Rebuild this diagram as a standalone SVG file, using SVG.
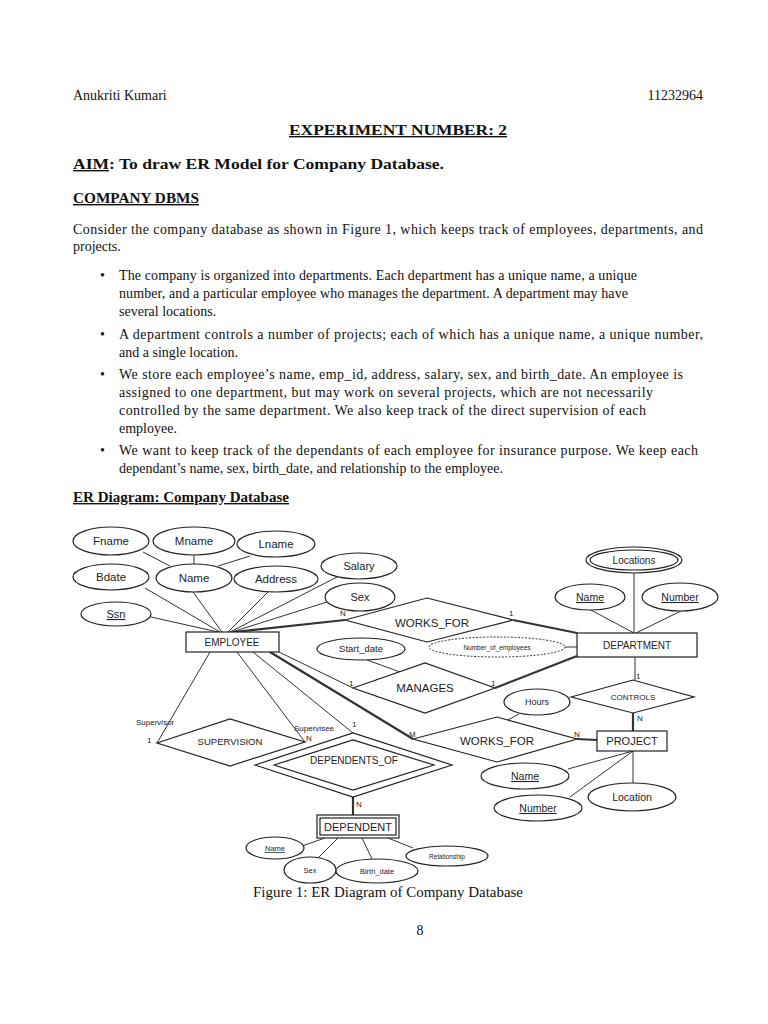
<svg xmlns="http://www.w3.org/2000/svg" width="768" height="1024" viewBox="0 0 768 1024">
<style>
.doc{font-family:"Liberation Serif","Times New Roman",serif;font-size:14px;fill:#111}
.b{font-weight:bold}
.u{text-decoration:underline}
.t{font-family:"Liberation Sans",Arial,sans-serif;fill:#222;text-anchor:middle}
.sh{fill:#fff;stroke:#222;stroke-width:1.2}
.ln{stroke:#333;stroke-width:1;fill:none}
.dl{stroke:#333;stroke-width:2.2;fill:none}
.lab{font-family:"Liberation Sans",Arial,sans-serif;font-size:8px;fill:#222}
</style>
<rect width="768" height="1024" fill="#fff"/>
<g id="page-text">
<text class="doc" x="73" y="100" font-size="14">Anukriti Kumari</text>
<text class="doc" x="703" y="100" text-anchor="end" font-size="14">11232964</text>
<text class="doc b u" x="289" y="135" font-size="17" textLength="218" lengthAdjust="spacingAndGlyphs">EXPERIMENT NUMBER: 2</text>
<text class="doc b" x="73" y="169" font-size="18" textLength="371" lengthAdjust="spacingAndGlyphs"><tspan class="u">AIM</tspan>: To draw ER Model for Company Database.</text>
<text class="doc b u" x="73" y="203" font-size="14" textLength="126" lengthAdjust="spacingAndGlyphs">COMPANY DBMS</text>
<text class="doc" x="73" y="234" textLength="630" lengthAdjust="spacing">Consider the company database as shown in Figure 1, which keeps track of employees, departments, and</text>
<text class="doc" x="73" y="251">projects.</text>
<text class="doc" x="100" y="280">•</text>
<text class="doc" x="119" y="280" textLength="518" lengthAdjust="spacing">The company is organized into departments. Each department has a unique name, a unique</text>
<text class="doc" x="119" y="298" textLength="509" lengthAdjust="spacing">number, and a particular employee who manages the department. A department may have</text>
<text class="doc" x="119" y="316">several locations.</text>
<text class="doc" x="100" y="339">•</text>
<text class="doc" x="119" y="339" textLength="584" lengthAdjust="spacing">A department controls a number of projects; each of which has a unique name, a unique number,</text>
<text class="doc" x="119" y="357">and a single location.</text>
<text class="doc" x="100" y="379">•</text>
<text class="doc" x="119" y="379" textLength="564" lengthAdjust="spacing">We store each employee’s name, emp_id, address, salary, sex, and birth_date. An employee is</text>
<text class="doc" x="119" y="397" textLength="534" lengthAdjust="spacing">assigned to one department, but may work on several projects, which are not necessarily</text>
<text class="doc" x="119" y="415" textLength="527" lengthAdjust="spacing">controlled by the same department. We also keep track of the direct supervision of each</text>
<text class="doc" x="119" y="433">employee.</text>
<text class="doc" x="100" y="455">•</text>
<text class="doc" x="119" y="455" textLength="579" lengthAdjust="spacing">We want to keep track of the dependants of each employee for insurance purpose. We keep each</text>
<text class="doc" x="119" y="473" textLength="384" lengthAdjust="spacing">dependant’s name, sex, birth_date, and relationship to the employee.</text>
<text class="doc b u" x="73" y="502" font-size="14" textLength="216" lengthAdjust="spacingAndGlyphs">ER Diagram: Company Database</text>
<text class="doc" x="388" y="897" text-anchor="middle" font-size="15" textLength="270" lengthAdjust="spacingAndGlyphs">Figure 1: ER Diagram of Company Database</text>
<text class="doc" x="420" y="935" text-anchor="middle" font-size="14">8</text>
</g>
<g id="connectors">
<line class="ln" x1="143" y1="552" x2="170" y2="566"/>
<line class="ln" x1="194" y1="555" x2="194" y2="564"/>
<line class="ln" x1="250" y1="556" x2="218" y2="566"/>
<line class="ln" x1="145" y1="588" x2="220" y2="632"/>
<line class="ln" x1="193" y1="592" x2="222" y2="632"/>
<line class="ln" x1="268" y1="592" x2="228" y2="632"/>
<line class="ln" x1="337" y1="577" x2="230" y2="632"/>
<line class="ln" x1="327" y1="602" x2="232" y2="632"/>
<line class="ln" x1="151" y1="617" x2="218" y2="632"/>
<line class="dl" x1="234" y1="632" x2="345" y2="620"/>
<line class="dl" x1="513" y1="620" x2="577" y2="633"/>
<line class="ln" x1="565" y1="647" x2="577" y2="647"/>
<line class="ln" x1="634" y1="573" x2="634" y2="633"/>
<line class="ln" x1="589" y1="609" x2="634" y2="633"/>
<line class="ln" x1="683" y1="610" x2="636" y2="633"/>
<line class="ln" x1="367" y1="660" x2="400" y2="672"/>
<line class="ln" x1="279" y1="652" x2="353" y2="688"/>
<line class="dl" x1="495" y1="688" x2="577" y2="656"/>
<line class="ln" x1="635" y1="657" x2="635" y2="680"/>
<line class="dl" x1="633" y1="713" x2="633" y2="731"/>
<line class="ln" x1="519" y1="714" x2="506" y2="721"/>
<line class="dl" x1="270" y1="652" x2="413" y2="739"/>
<line class="dl" x1="577" y1="739" x2="597" y2="740"/>
<line class="ln" x1="253" y1="652" x2="353" y2="733"/>
<line class="ln" x1="210" y1="652" x2="157" y2="743"/>
<line class="ln" x1="237" y1="652" x2="305" y2="742"/>
<line class="dl" x1="353" y1="797" x2="353" y2="815"/>
<line class="ln" x1="302" y1="846" x2="325" y2="838"/>
<line class="ln" x1="318" y1="858" x2="338" y2="838"/>
<line class="ln" x1="372" y1="859" x2="362" y2="838"/>
<line class="ln" x1="413" y1="848" x2="388" y2="838"/>
<line class="ln" x1="568" y1="769" x2="633" y2="751"/>
<line class="ln" x1="570" y1="797" x2="633" y2="751"/>
<line class="ln" x1="633" y1="751" x2="633" y2="783"/>
</g>
<g id="Fname"><ellipse class="sh" cx="111" cy="541" rx="38" ry="14"/><text class="t" x="111" y="545" font-size="11.5">Fname</text></g>
<g id="Mname"><ellipse class="sh" cx="194" cy="541" rx="41" ry="14"/><text class="t" x="194" y="545" font-size="11.5">Mname</text></g>
<g id="Lname"><ellipse class="sh" cx="276" cy="544" rx="39" ry="13"/><text class="t" x="276" y="548" font-size="11.5">Lname</text></g>
<g id="Bdate"><ellipse class="sh" cx="111" cy="577" rx="38" ry="13"/><text class="t" x="111" y="581" font-size="11.5">Bdate</text></g>
<g id="Name"><ellipse class="sh" cx="194" cy="578" rx="38" ry="14"/><text class="t" x="194" y="582" font-size="11.5">Name</text></g>
<g id="Address"><ellipse class="sh" cx="276" cy="579" rx="42" ry="13"/><text class="t" x="276" y="583" font-size="11.5">Address</text></g>
<g id="Salary"><ellipse class="sh" cx="359" cy="566" rx="38" ry="13"/><text class="t" x="359" y="570" font-size="11">Salary</text></g>
<g id="Sex"><ellipse class="sh" cx="360" cy="597" rx="35" ry="14"/><text class="t" x="360" y="601" font-size="11">Sex</text></g>
<g id="Ssn"><ellipse class="sh" cx="116" cy="614" rx="35" ry="12"/><text class="t u" x="116" y="618" font-size="11">Ssn</text></g>
<g id="EMPLOYEE"><rect class="sh" x="186" y="632" width="93" height="20"/><text class="t" x="232" y="646" font-size="10">EMPLOYEE</text></g>
<g id="WORKS_FOR_1"><polygon class="sh" style="fill:none" points="345,620 427,598 513,620 427,642"/><text class="t" x="432" y="627" font-size="11.5">WORKS_FOR</text></g>
<g id="Number_of_employees"><ellipse cx="497" cy="647" rx="68" ry="10" fill="#fff" stroke="#333" stroke-width="1" stroke-dasharray="2,1.5"/><text class="t" x="497" y="650" font-size="6.5">Number_of_employees</text></g>
<g id="DEPARTMENT"><rect class="sh" x="577" y="633" width="120" height="24"/><text class="t" x="637" y="649" font-size="10">DEPARTMENT</text></g>
<g id="Locations"><ellipse class="sh" cx="634" cy="560" rx="48" ry="13"/><ellipse class="sh" cx="634" cy="560" rx="44" ry="10"/><text class="t" x="634" y="564" font-size="10">Locations</text></g>
<g id="Dept_Name"><ellipse class="sh" cx="590" cy="597" rx="35" ry="13"/><text class="t u" x="590" y="601" font-size="10.5">Name</text></g>
<g id="Dept_Number"><ellipse class="sh" cx="680" cy="597" rx="38" ry="14"/><text class="t u" x="680" y="601" font-size="10.5">Number</text></g>
<g id="Start_date"><ellipse class="sh" cx="361" cy="649" rx="44" ry="11"/><text class="t" x="361" y="652" font-size="9.5">Start_date</text></g>
<g id="MANAGES"><polygon class="sh" points="353,688 425,663 495,688 425,713"/><text class="t" x="425" y="692" font-size="11.5">MANAGES</text></g>
<g id="CONTROLS"><polygon class="sh" points="571,697 633,680 694,697 633,713"/><text class="t" x="633" y="700" font-size="8">CONTROLS</text></g>
<g id="Hours"><ellipse class="sh" cx="537" cy="702" rx="33" ry="13"/><text class="t" x="537" y="705" font-size="9">Hours</text></g>
<g id="WORKS_FOR_2"><polygon class="sh" points="413,739 497,717 577,739 497,762"/><text class="t" x="497" y="745" font-size="11.5">WORKS_FOR</text></g>
<g id="PROJECT"><rect class="sh" x="597" y="731" width="70" height="20"/><text class="t" x="632" y="745" font-size="11">PROJECT</text></g>
<g id="Proj_Name"><ellipse class="sh" cx="525" cy="776" rx="44" ry="13"/><text class="t u" x="525" y="780" font-size="10.5">Name</text></g>
<g id="Proj_Number"><ellipse class="sh" cx="538" cy="808" rx="44" ry="13"/><text class="t u" x="538" y="812" font-size="10.5">Number</text></g>
<g id="Location"><ellipse class="sh" cx="632" cy="797" rx="44" ry="14"/><text class="t" x="632" y="801" font-size="10.5">Location</text></g>
<g id="SUPERVISION"><polygon class="sh" points="157,743 230,719 305,742 230,766"/><text class="t" x="230" y="745" font-size="9.5">SUPERVISION</text></g>
<g id="DEPENDENTS_OF"><polygon class="sh" points="255,765 353,733 452,765 353,797"/><polygon class="sh" points="274,765 353,740 434,765 353,790"/><text class="t" x="354" y="764" font-size="10">DEPENDENTS_OF</text></g>
<g id="DEPENDENT"><rect class="sh" x="317" y="815" width="82" height="23"/><rect class="sh" x="320" y="818" width="76" height="17"/><text class="t" x="358" y="831" font-size="11">DEPENDENT</text></g>
<g id="Dep_Name"><ellipse class="sh" cx="275" cy="848" rx="29" ry="11"/><text class="t u" x="275" y="851" font-size="7.5">Name</text></g>
<g id="Dep_Sex"><ellipse class="sh" cx="310" cy="870" rx="26" ry="13"/><text class="t" x="310" y="873" font-size="7.5">Sex</text></g>
<g id="Birth_date"><ellipse class="sh" cx="377" cy="871" rx="41" ry="12"/><text class="t" x="377" y="874" font-size="7.5">Birth_date</text></g>
<g id="Relationship"><ellipse class="sh" cx="447" cy="856" rx="41" ry="10"/><text class="t" x="447" y="859" font-size="6.5">Relationship</text></g>
<g id="labels">
<text class="lab" x="340" y="616">N</text>
<text class="lab" x="509" y="616">1</text>
<text class="lab" x="349" y="686">1</text>
<text class="lab" x="491" y="686">1</text>
<text class="lab" x="636" y="679">1</text>
<text class="lab" x="637" y="721">N</text>
<text class="lab" x="409" y="737">M</text>
<text class="lab" x="574" y="737">N</text>
<text class="lab" x="147" y="743">1</text>
<text class="lab" x="306" y="741">N</text>
<text class="lab" x="352" y="727">1</text>
<text class="lab" x="356" y="807">N</text>
<text class="lab" x="136" y="725" font-size="5.5">Supervisor</text>
<text class="lab" x="294" y="731" font-size="5.5">Supervisee</text>
</g>
</svg>
